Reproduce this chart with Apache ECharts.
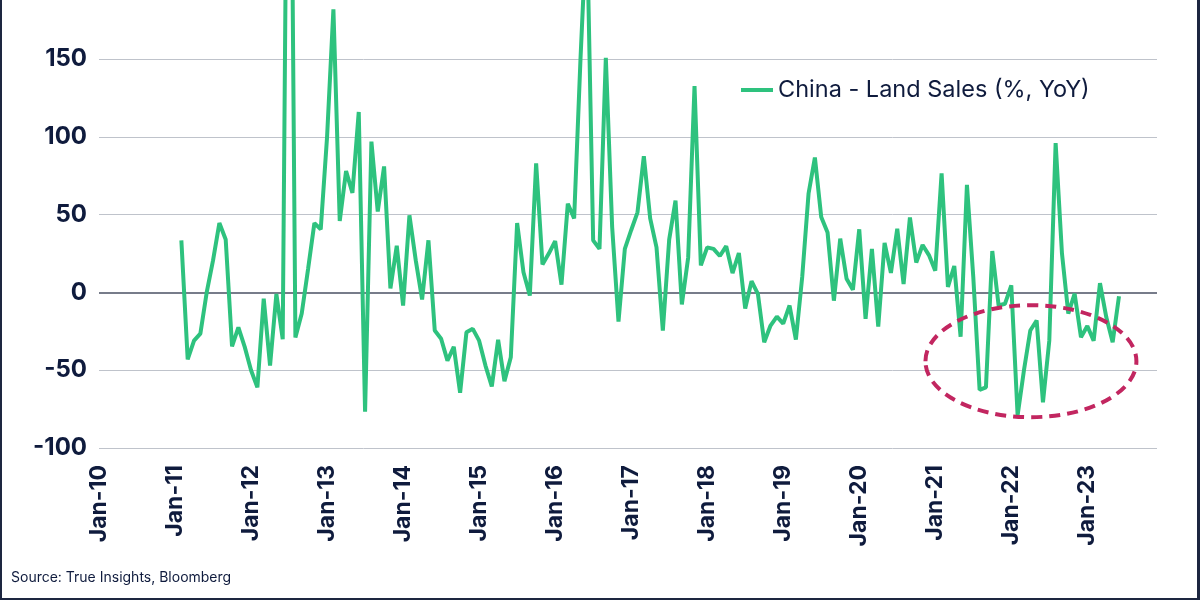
<!DOCTYPE html>
<html lang="en">

<head>
    <meta charset="UTF-8">
    <title>China - Land Sales</title>
    <script type="text/javascript" src="https://cdn.jsdelivr.net/npm/echarts@6/dist/echarts.min.js"></script>
    <style>
        html,
        body {
            margin: 0;
            padding: 0;
            background: #fff;
        }

        #container {
            width: 1200px;
            height: 600px;
        }

        #frame {
            position: absolute;
            left: 0;
            top: 0;
            width: 1200px;
            height: 600px;
            box-sizing: border-box;
            border-left: 2px solid #1d2640;
            border-right: 3px solid #1d2640;
            border-bottom: 2px solid #1d2640;
            pointer-events: none;
        }
    </style>
</head>

<body>
    <div id="container"></div>
    <div id="frame"></div>
    <script>
        // tick labels, one per January (month index 0 = Jan-10)
        let yearTicks = ['Jan-10', 'Jan-11', 'Jan-12', 'Jan-13', 'Jan-14', 'Jan-15', 'Jan-16',
            'Jan-17', 'Jan-18', 'Jan-19', 'Jan-20', 'Jan-21', 'Jan-22', 'Jan-23'];
        let valueTicks = [-100, -50, 0, 50, 100, 150];
        let seriesName = 'China - Land Sales (%, YoY)';
        let firstMonth = 12; // series starts Jan-11
        // monthly values, Jan-11 .. May-23
        let landSales = [
            33.5, -43, -31, -26.5, 0, 20.6, 44.6, 34, -34.6, -22.5, -35, -50,
            -61, -4, -47, -1, -30, 480, -29, -13.5, 15, 44.6, 40.6, 100,
            182, 46, 78, 64, 116, -76.7, 97, 52, 81, 2.6, 30, -8.4,
            49.6, 20.6, -4.5, 33.5, -24.5, -29.8, -43.8, -35, -64.5, -25.6, -23.4, -31,
            -47, -60.4, -30.5, -57, -41.7, 44.6, 13, -2, 83, 18, 25, 33,
            5, 57, 47.6, 150, 240, 33.5, 28, 150.8, 42, -18.7, 28, 40,
            51.5, 87.6, 47.6, 29, -24.5, 34, 59, -7.7, 22.5, 132.7, 17.4, 29,
            28, 23.4, 29.8, 12.4, 25.3, -10.3, 7.3, -0.9, -32, -21.3, -15.5, -20,
            -8.4, -30.3, 10, 63.6, 86.7, 48.5, 38.5, -5.3, 34.6, 8.8, 1.7, 40.6,
            -17, 28, -22, 31.8, 12.6, 41, 5.4, 48.2, 19.2, 30.5, 24, 14,
            76.5, 3.6, 17, -28.5, 69.2, 10, -62.6, -61, 26.6, -8.4, -7.3, 4.5,
            -79, -50, -24.5, -18, -70.6, -31, 96, 25, -13.6, -0.8, -28.8, -21.6,
            -31, 6, -16, -32, -2.4
        ];
        // dashed highlight round the 2021-23 lows (month index, value)
        let highlightCenter = [147.1, -44.2];
        let highlightRadius = [16.65, 36];

        let navy = '#0f1b3d';
        let font = 'Inter';

        let chart = echarts.init(document.getElementById('container'));
        let points = landSales.map((v, i) => [firstMonth + i + 1, v]); // month-end

        // horizontal grid lines, zero line darker
        let gridLines = valueTicks.map(v => ({
            yAxis: v,
            lineStyle: v === 0 ? { color: '#4a5163', width: 1.5 } : { color: '#bfc3cb', width: 1 },
        }));

        let sourceText = {
            type: 'text',
            left: 11,
            top: 571,
            style: {
                text: 'Source: True Insights, Bloomberg',
                fontFamily: font,
                fontSize: 14,
                fill: navy,
            },
        };

        let option = {
            animation: false,
            grid: {
                left: 99,
                right: 43,
                top: 0,
                bottom: 152,
            },
            legend: {
                data: [seriesName],
                left: 736,
                top: 73,
                icon: 'rect',
                itemWidth: 32,
                itemHeight: 4,
                textStyle: {
                    fontFamily: font,
                    fontSize: 23.5,
                    fontWeight: 400,
                    color: navy,
                },
            },
            xAxis: {
                type: 'value',
                min: 0,
                max: 167,
                interval: 12,
                axisLine: { show: false },
                axisTick: { show: false },
                splitLine: { show: false },
                axisLabel: {
                    rotate: 90,
                    margin: 17,
                    fontFamily: font,
                    fontSize: 23,
                    fontWeight: 700,
                    color: navy,
                    formatter: v => v % 12 === 0 ? yearTicks[v / 12] : '',
                },
            },
            yAxis: {
                type: 'value',
                min: -100,
                max: 188,
                interval: 50,
                axisLine: { show: false },
                axisTick: { show: false },
                splitLine: { show: false },
                axisLabel: {
                    margin: 12,
                    fontFamily: font,
                    fontSize: 24,
                    fontWeight: 700,
                    color: navy,
                    formatter: v => valueTicks.includes(v) ? String(v) : '',
                },
            },
            series: [{
                name: seriesName,
                type: 'line',
                symbol: 'none',
                data: points,
                z: 3,
                lineStyle: { color: '#2ec27e', width: 4 },
                itemStyle: { color: '#2ec27e' },
                markLine: {
                    silent: true,
                    symbol: ['none', 'none'],
                    label: { show: false },
                    lineStyle: { type: 'solid' },
                    z: 1,
                    data: gridLines,
                },
            }],
            graphic: [sourceText],
        };
        chart.setOption(option);

        let c = chart.convertToPixel({ gridIndex: 0 }, highlightCenter);
        let edge = chart.convertToPixel({ gridIndex: 0 }, [highlightCenter[0] + highlightRadius[0], highlightCenter[1] + highlightRadius[1]]);
        chart.setOption({
            graphic: [sourceText, {
                type: 'ellipse',
                silent: true,
                shape: {
                    cx: c[0],
                    cy: c[1],
                    rx: Math.abs(edge[0] - c[0]),
                    ry: Math.abs(c[1] - edge[1]),
                },
                style: {
                    fill: 'none',
                    stroke: '#c22660',
                    lineWidth: 4,
                    lineDash: [11, 7],
                },
                z: 10,
            }],
        });
    </script>
</body>

</html>
